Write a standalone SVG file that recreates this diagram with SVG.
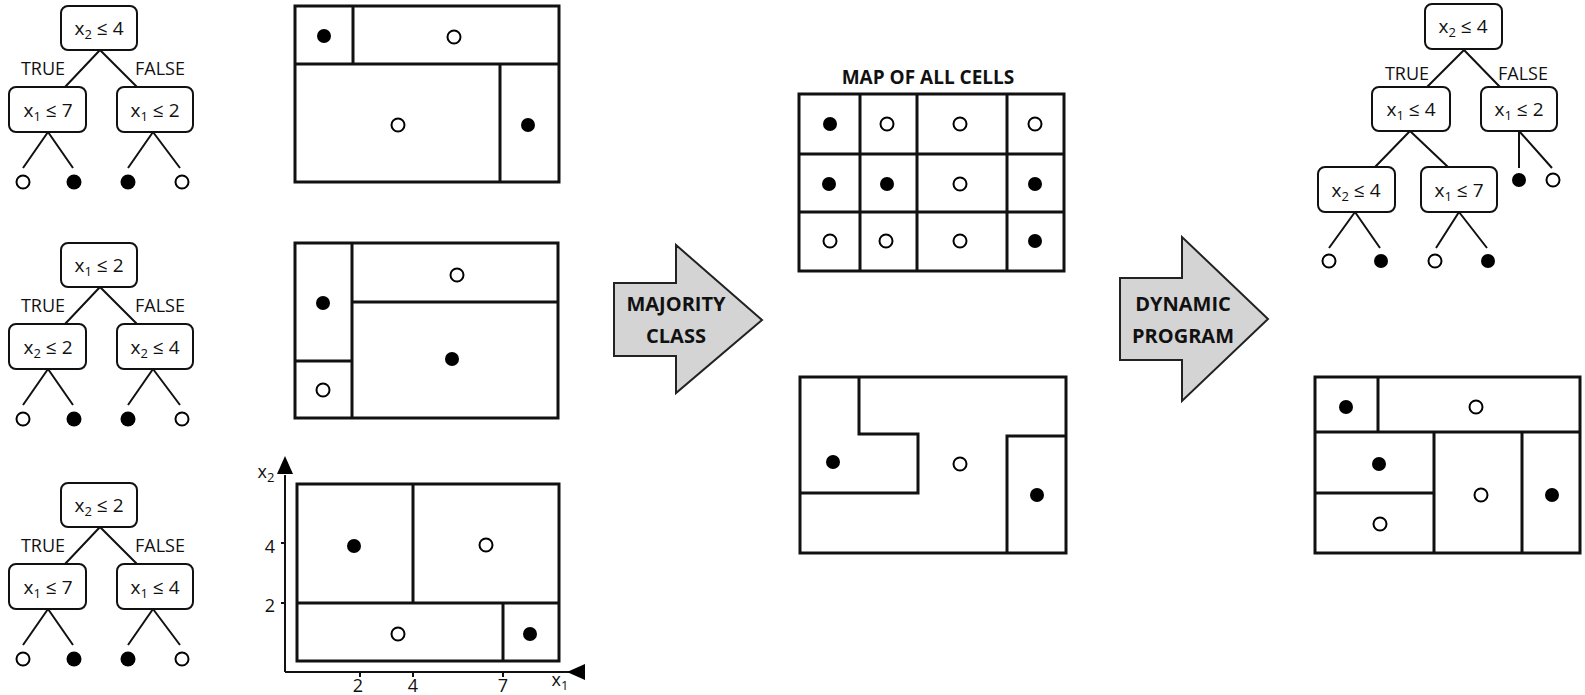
<svg xmlns="http://www.w3.org/2000/svg" width="1585" height="695" viewBox="0 0 1585 695">
<style>
text{font-family:"Open Sans","Liberation Sans",sans-serif;fill:#111}
.t{font-size:19px;text-anchor:middle}
.l{font-size:18px;text-anchor:middle}
.b{font-size:20px;font-weight:bold;text-anchor:middle;font-family:"Open Sans","Liberation Sans",sans-serif}
.box{fill:#fff;stroke:#111;stroke-width:2}
.ln{stroke:#111;stroke-width:2;fill:none}
.pn{fill:#fff;stroke:#111;stroke-width:3}
.pl{stroke:#111;stroke-width:3;fill:none}
.f{fill:#000}
.o{fill:#fff;stroke:#000;stroke-width:2}
.ar{fill:#d4d4d4;stroke:#222;stroke-width:2}
.s{font-size:13px}
</style>
<defs>
<g id="treeshape">
<rect class="box" x="61" y="6" width="76" height="44" rx="7"/>
<rect class="box" x="9" y="87" width="77" height="45" rx="7"/>
<rect class="box" x="117" y="87" width="76" height="45" rx="7"/>
<path class="ln" d="M100,50 L65,87 M100,50 L137,87 M48,132 L23,168 M48,132 L73,168 M153,132 L128,168 M153,132 L180,168"/>
<circle class="o" cx="23" cy="182" r="6.5"/><circle class="f" cx="74" cy="182" r="7.5"/>
<circle class="f" cx="128" cy="182" r="7.5"/><circle class="o" cx="182" cy="182" r="6.5"/>
<text class="l" x="43" y="75">TRUE</text><text class="l" x="160" y="75">FALSE</text>
</g>
</defs>
<g id="tree1">
<use href="#treeshape"/>
<text class="t" x="99" y="35">x<tspan class="s" dy="4">2</tspan><tspan dy="-4"> ≤ 4</tspan></text>
<text class="t" x="48" y="117">x<tspan class="s" dy="4">1</tspan><tspan dy="-4"> ≤ 7</tspan></text>
<text class="t" x="155" y="117">x<tspan class="s" dy="4">1</tspan><tspan dy="-4"> ≤ 2</tspan></text>
</g>
<g id="tree2" transform="translate(0,237)">
<use href="#treeshape"/>
<text class="t" x="99" y="35">x<tspan class="s" dy="4">1</tspan><tspan dy="-4"> ≤ 2</tspan></text>
<text class="t" x="48" y="117">x<tspan class="s" dy="4">2</tspan><tspan dy="-4"> ≤ 2</tspan></text>
<text class="t" x="155" y="117">x<tspan class="s" dy="4">2</tspan><tspan dy="-4"> ≤ 4</tspan></text>
</g>
<g id="tree3" transform="translate(0,477)">
<use href="#treeshape"/>
<text class="t" x="99" y="35">x<tspan class="s" dy="4">2</tspan><tspan dy="-4"> ≤ 2</tspan></text>
<text class="t" x="48" y="117">x<tspan class="s" dy="4">1</tspan><tspan dy="-4"> ≤ 7</tspan></text>
<text class="t" x="155" y="117">x<tspan class="s" dy="4">1</tspan><tspan dy="-4"> ≤ 4</tspan></text>
</g>
<g id="panel1">
<rect class="pn" x="295" y="6" width="264" height="176"/>
<path class="pl" d="M353,6 V64 M295,64 H559 M500,64 V182"/>
<circle class="f" cx="324" cy="36" r="7"/><circle class="o" cx="454" cy="37" r="6.5"/>
<circle class="o" cx="398" cy="125" r="6.5"/><circle class="f" cx="528" cy="125" r="7"/>
</g>
<g id="panel2">
<rect class="pn" x="295" y="243" width="263" height="175"/>
<path class="pl" d="M352,243 V418 M352,302 H558 M295,361 H352"/>
<circle class="f" cx="323" cy="303" r="7"/><circle class="o" cx="323" cy="390" r="6.5"/>
<circle class="o" cx="457" cy="275" r="6.5"/><circle class="f" cx="452" cy="359" r="7"/>
</g>
<g id="panel3">
<path class="ln" d="M285,672 V475 M285,672 H575"/>
<polygon class="f" points="285,456 277,474 293,474"/>
<polygon class="f" points="585,664 585,680 567,672"/>
<path class="ln" d="M281,543 H285 M281,603 H285 M360,672 V677 M413,672 V677 M503,672 V677"/>
<text class="l" x="270" y="553">4</text><text class="l" x="270" y="612">2</text>
<text class="l" x="358" y="692">2</text><text class="l" x="413" y="692">4</text><text class="l" x="503" y="692">7</text>
<text class="l" x="266" y="478">x<tspan class="s" dy="4">2</tspan></text>
<text class="l" x="560" y="686">x<tspan class="s" dy="4">1</tspan></text>
<rect class="pn" x="297" y="484" width="262" height="177"/>
<path class="pl" d="M413,484 V603 M297,603 H559 M503,603 V661"/>
<circle class="f" cx="354" cy="546" r="7"/><circle class="o" cx="486" cy="545" r="6.5"/>
<circle class="o" cx="398" cy="634" r="6.5"/><circle class="f" cx="530" cy="634" r="7"/>
</g>
<g id="arrow1">
<polygon class="ar" points="614,283 676,283 676,245 762,320 676,393 676,356 614,356"/>
<text class="b" x="676" y="311">MAJORITY</text>
<text class="b" x="676" y="343">CLASS</text>
</g>
<g id="mapcells">
<text class="b" x="928" y="84" style="font-size:19px">MAP OF ALL CELLS</text>
<rect class="pn" x="799" y="94" width="265" height="177"/>
<path class="pl" d="M860,94 V271 M917,94 V271 M1007,94 V271 M799,154 H1064 M799,212 H1064"/>
<circle class="f" cx="830" cy="124" r="7"/><circle class="o" cx="887" cy="124" r="6.5"/><circle class="o" cx="960" cy="124" r="6.5"/><circle class="o" cx="1035" cy="124" r="6.5"/>
<circle class="f" cx="829" cy="184" r="7"/><circle class="f" cx="887" cy="184" r="7"/><circle class="o" cx="960" cy="184" r="6.5"/><circle class="f" cx="1035" cy="184" r="7"/>
<circle class="o" cx="830" cy="241" r="6.5"/><circle class="o" cx="886" cy="241" r="6.5"/><circle class="o" cx="960" cy="241" r="6.5"/><circle class="f" cx="1035" cy="241" r="7"/>
</g>
<g id="mergedpanel">
<rect class="pn" x="800" y="377" width="266" height="176"/>
<path class="pl" d="M859,377 V434 H918 V493 H800 M1007,553 V436 H1066"/>
<circle class="f" cx="833" cy="462" r="7"/><circle class="o" cx="960" cy="464" r="6.5"/><circle class="f" cx="1037" cy="495" r="7"/>
</g>
<g id="arrow2">
<polygon class="ar" points="1120,278 1182,278 1182,237 1268,319 1182,401 1182,360 1120,360"/>
<text class="b" x="1183" y="311">DYNAMIC</text>
<text class="b" x="1183" y="343">PROGRAM</text>
</g>
<g id="tree4">
<rect class="box" x="1425" y="4" width="77" height="45" rx="7"/>
<rect class="box" x="1372" y="87" width="78" height="44" rx="7"/>
<rect class="box" x="1481" y="87" width="76" height="44" rx="7"/>
<rect class="box" x="1318" y="167" width="77" height="45" rx="7"/>
<rect class="box" x="1421" y="167" width="76" height="45" rx="7"/>
<text class="t" x="1463" y="33">x<tspan class="s" dy="4">2</tspan><tspan dy="-4"> ≤ 4</tspan></text>
<text class="t" x="1411" y="116">x<tspan class="s" dy="4">1</tspan><tspan dy="-4"> ≤ 4</tspan></text>
<text class="t" x="1519" y="116">x<tspan class="s" dy="4">1</tspan><tspan dy="-4"> ≤ 2</tspan></text>
<text class="t" x="1356" y="197">x<tspan class="s" dy="4">2</tspan><tspan dy="-4"> ≤ 4</tspan></text>
<text class="t" x="1459" y="197">x<tspan class="s" dy="4">1</tspan><tspan dy="-4"> ≤ 7</tspan></text>
<text class="l" x="1407" y="80">TRUE</text><text class="l" x="1523" y="80">FALSE</text>
<path class="ln" d="M1464,50 L1427,87 M1464,50 L1500,87 M1410,131 L1375,167 M1410,131 L1448,167 M1519,131 V168 M1519,131 L1552,168 M1355,212 L1329,248 M1355,212 L1380,248 M1459,212 L1436,248 M1459,212 L1487,248"/>
<circle class="f" cx="1519" cy="180" r="7"/><circle class="o" cx="1553" cy="180" r="6.5"/>
<circle class="o" cx="1329" cy="261" r="6.5"/><circle class="f" cx="1381" cy="261" r="7"/>
<circle class="o" cx="1435" cy="261" r="6.5"/><circle class="f" cx="1488" cy="261" r="7"/>
</g>
<g id="panel4">
<rect class="pn" x="1315" y="377" width="265" height="176"/>
<path class="pl" d="M1378,377 V432 M1315,432 H1580 M1434,432 V553 M1522,432 V553 M1315,493 H1434"/>
<circle class="f" cx="1346" cy="407" r="7"/><circle class="o" cx="1476" cy="407" r="6.5"/>
<circle class="f" cx="1379" cy="464" r="7"/><circle class="o" cx="1481" cy="495" r="6.5"/>
<circle class="f" cx="1552" cy="495" r="7"/><circle class="o" cx="1380" cy="524" r="6.5"/>
</g>
</svg>
